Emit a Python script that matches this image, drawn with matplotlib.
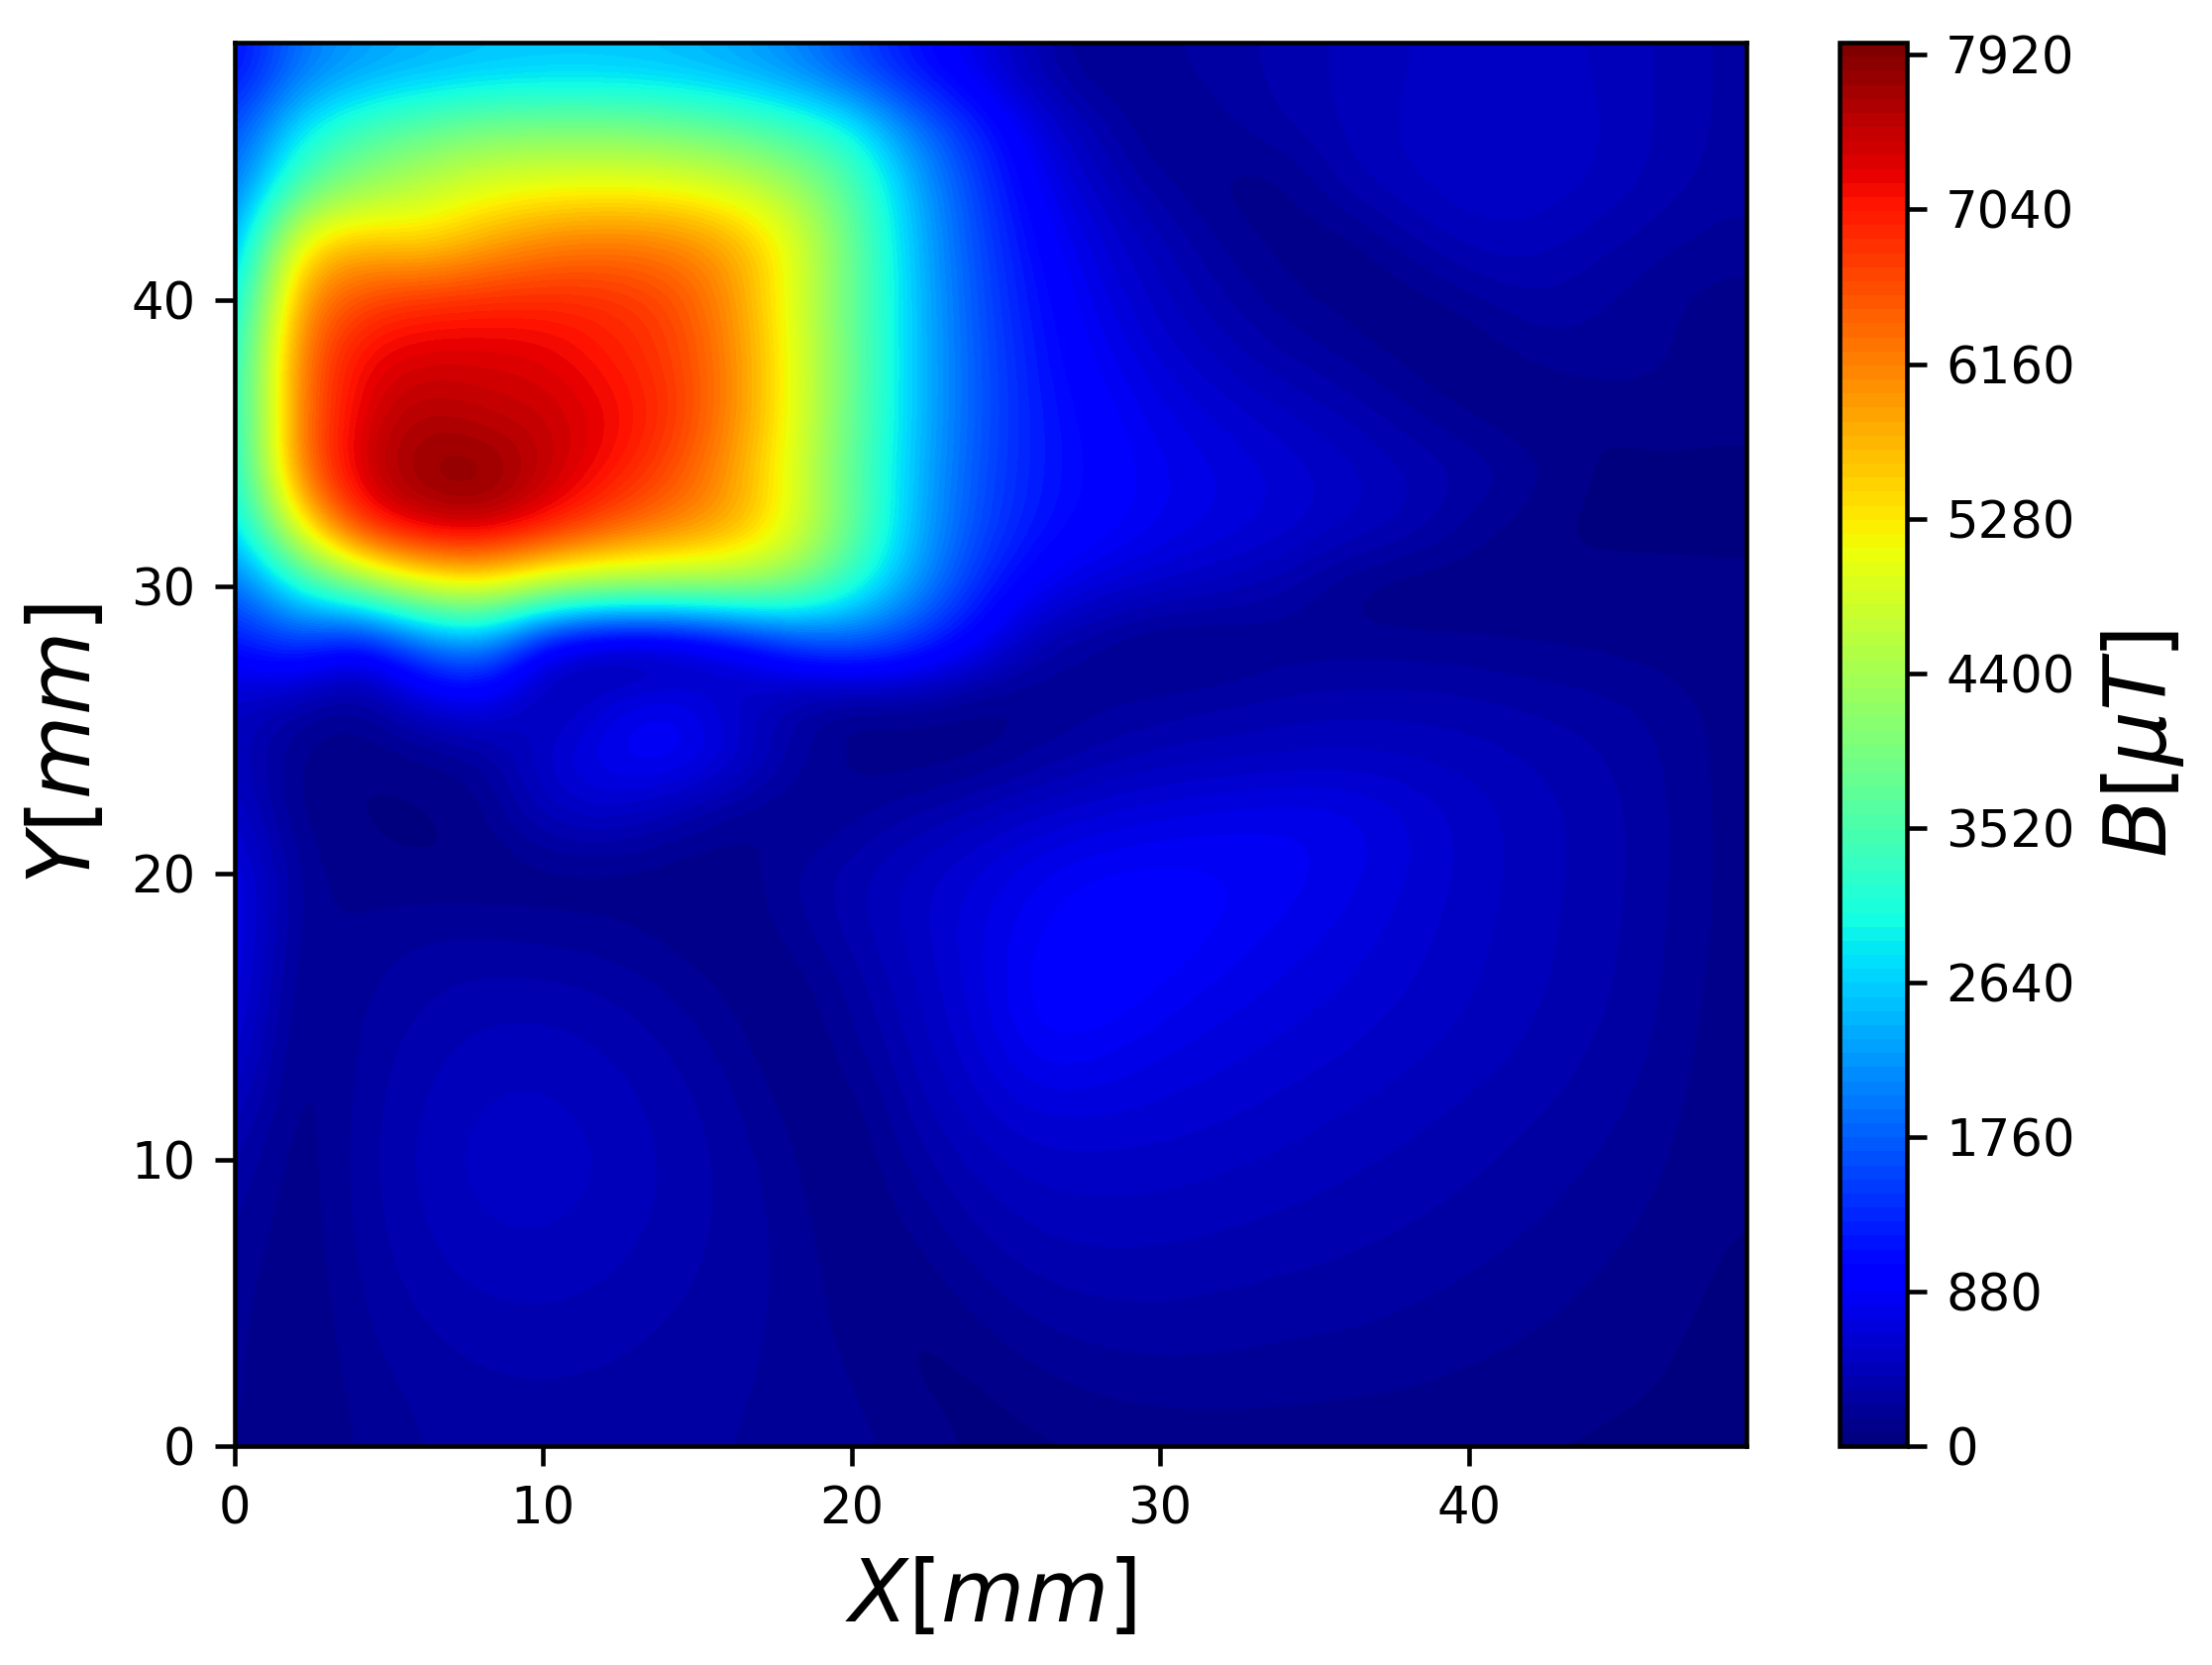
"""
Magnetic flux density map B[uT] over the XY plane.
"""

import numpy as np
from matplotlib import pyplot as plt

# sample positions of the field, mm
x_mm = list(range(0, 50, 2))
y_mm = list(range(48, -1, -2))

# field values, one row per y_mm entry
field_ut = [
    [1000, 1900, 2250, 2400, 2500, 2550, 2550, 2500, 2350, 2100, 1600, 1100, 750, 350, 120, 220, 280, 350, 420, 480, 520, 520, 480, 400, 300],
    [1500, 2800, 3400, 3700, 3950, 4000, 4000, 3900, 3700, 3400, 3000, 2000, 1300, 700, 350, 100, 220, 320, 420, 500, 550, 560, 500, 400, 300],
    [1800, 3500, 4200, 4600, 4950, 5050, 5100, 5050, 4850, 4400, 3600, 2400, 1500, 850, 500, 250, 120, 90, 380, 480, 540, 550, 480, 380, 280],
    [2100, 5300, 5700, 5400, 5800, 6150, 6250, 6200, 5900, 5100, 3800, 2500, 1600, 1000, 650, 420, 220, 120, 60, 300, 450, 450, 360, 270, 200],
    [2500, 6000, 6700, 6900, 6950, 6950, 6900, 6700, 6100, 5000, 3800, 2550, 1650, 1100, 750, 500, 330, 180, 120, 60, 200, 320, 250, 180, 120],
    [2800, 6300, 7200, 7350, 7350, 7300, 7050, 6800, 6200, 5100, 3800, 2550, 1700, 1150, 850, 620, 450, 320, 220, 120, 50, 170, 220, 180, 120],
    [2800, 6300, 7300, 7650, 7500, 7450, 7250, 6900, 6200, 5100, 3800, 2550, 1700, 1200, 950, 750, 620, 500, 400, 260, 140, 60, 80, 130, 100],
    [2700, 6300, 7450, 7850, 7950, 7550, 7150, 6700, 6000, 5000, 3700, 2500, 1650, 1200, 1000, 820, 720, 620, 520, 420, 330, 220, 60, 50, 60],
    [2500, 5000, 6900, 7450, 7550, 7150, 6600, 6200, 5900, 5100, 3800, 2450, 1600, 1150, 950, 800, 700, 620, 500, 400, 200, 90, 50, 50, 50],
    [1700, 3000, 3900, 4800, 5100, 4500, 4300, 4300, 4300, 4100, 3200, 2250, 1350, 850, 650, 540, 450, 330, 120, 50, 80, 100, 120, 120, 110],
    [1100, 1500, 800, 1700, 2200, 700, 150, 130, 600, 1300, 1700, 1400, 900, 350, 180, 50, 100, 160, 190, 190, 170, 150, 130, 110, 100],
    [500, 300, 130, 600, 800, 300, 650, 880, 550, 280, 100, 200, 70, 120, 200, 260, 300, 340, 360, 360, 340, 300, 270, 220, 130],
    [500, 100, 80, 100, 180, 600, 850, 950, 700, 300, 120, 70, 120, 250, 350, 420, 450, 480, 500, 480, 450, 400, 340, 260, 130],
    [600, 120, 70, 60, 100, 450, 550, 350, 180, 100, 200, 330, 450, 560, 650, 720, 770, 800, 780, 650, 530, 440, 370, 280, 130],
    [800, 200, 100, 80, 70, 80, 90, 90, 80, 250, 380, 520, 650, 800, 900, 920, 900, 850, 760, 640, 530, 440, 370, 280, 130],
    [820, 150, 180, 230, 230, 200, 180, 130, 60, 180, 360, 520, 700, 880, 1000, 980, 880, 780, 700, 600, 510, 430, 360, 270, 130],
    [780, 100, 220, 300, 350, 350, 310, 240, 130, 70, 270, 470, 680, 950, 1000, 880, 770, 700, 630, 560, 490, 420, 350, 260, 120],
    [680, 70, 250, 360, 430, 440, 400, 320, 210, 60, 200, 430, 620, 900, 850, 740, 680, 620, 570, 510, 450, 390, 320, 240, 110],
    [520, 60, 270, 400, 490, 500, 450, 370, 270, 110, 90, 370, 540, 680, 670, 630, 590, 540, 490, 440, 390, 340, 280, 210, 100],
    [350, 60, 280, 420, 520, 530, 480, 390, 300, 170, 50, 280, 440, 530, 540, 530, 500, 460, 420, 380, 340, 290, 240, 180, 90],
    [280, 60, 270, 400, 490, 500, 460, 380, 300, 210, 60, 180, 340, 430, 450, 440, 420, 390, 360, 330, 290, 250, 200, 150, 80],
    [220, 60, 250, 360, 430, 440, 410, 350, 290, 220, 100, 90, 240, 330, 360, 360, 340, 320, 300, 270, 240, 200, 160, 120, 70],
    [200, 60, 220, 310, 360, 370, 350, 310, 270, 220, 130, 50, 130, 230, 270, 280, 270, 250, 240, 220, 190, 160, 130, 100, 60],
    [190, 60, 190, 260, 300, 310, 300, 280, 250, 220, 170, 70, 50, 120, 170, 190, 190, 180, 170, 160, 140, 120, 100, 80, 50],
    [180, 60, 170, 240, 270, 280, 280, 260, 240, 220, 190, 130, 60, 60, 80, 100, 110, 110, 110, 100, 90, 80, 70, 60, 40],
]

x_ticks = [0, 10, 20, 30, 40]
y_ticks = [0, 10, 20, 30, 40]
cbar_ticks = [0, 880, 1760, 2640, 3520, 4400, 5280, 6160, 7040, 7920]
v_max = 7990


def main():
    plt.rcParams['axes.linewidth'] = 1.1

    fig = plt.figure(figsize=(2233 / 300, 1681 / 300), dpi=300)
    ax = fig.add_axes([236.5 / 2233, 221 / 1681, 1526.5 / 2233, 1417 / 1681])
    cax = fig.add_axes([1857 / 2233, 221 / 1681, 68 / 2233, 1417 / 1681])

    step = x_mm[1] - x_mm[0]
    extent = (x_mm[0] - step / 2, x_mm[-1] + step / 2, y_mm[-1] - step / 2, y_mm[0] + step / 2)
    # 100 colour steps give the same banding as the contourf levels of the original
    im = ax.imshow(np.array(field_ut), cmap=plt.get_cmap('jet', 100), vmin=0, vmax=v_max,
                   extent=extent, aspect='auto', interpolation='bicubic',
                   interpolation_stage='data')
    ax.set_xlim(0, 49)
    ax.set_ylim(0, 49)
    ax.set_xticks(x_ticks)
    ax.set_yticks(y_ticks)
    ax.tick_params(labelsize=12.3, length=4.8, width=1.1, pad=4.6)
    ax.set_xlabel('$X[mm]$', fontsize=20.8, labelpad=5.2)
    ax.set_ylabel('$Y[mm]$', fontsize=20.8, labelpad=5.5)

    cbar = fig.colorbar(im, cax=cax)
    cbar.set_ticks(cbar_ticks)
    cbar.ax.tick_params(labelsize=12.3, length=4.8, width=1.1, pad=4.6)
    cbar.set_label(r'$B[\mu T]$', fontsize=20.8, labelpad=5.7)

    plt.savefig('out.png', dpi=300)


if __name__ == '__main__':
    main()
